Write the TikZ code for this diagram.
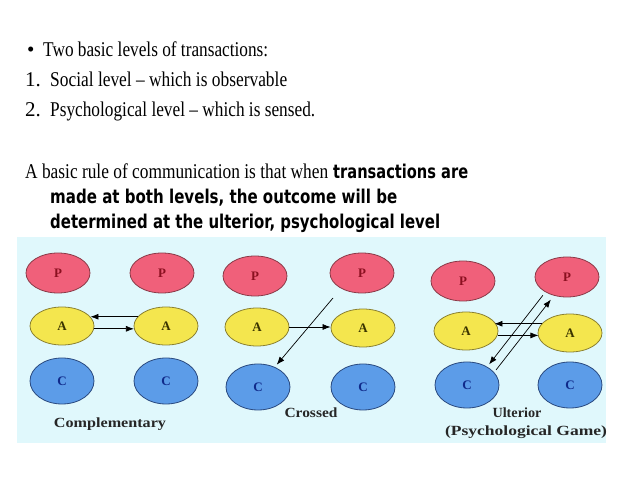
\documentclass[tikz,border=0pt]{standalone}
\usepackage{fontspec}
\usepackage{graphicx}
\setmainfont{Liberation Serif}
\newfontfamily\handfont{DejaVu Sans}
\usetikzlibrary{shapes.geometric,arrows.meta}

\definecolor{panelbg}{HTML}{E0F8FC}
\definecolor{pfill}{HTML}{F0607A}
\definecolor{pline}{HTML}{8A3A48}
\definecolor{ptext}{HTML}{8B1020}
\definecolor{afill}{HTML}{F4E64E}
\definecolor{aline}{HTML}{8A8030}
\definecolor{atext}{HTML}{3A3400}
\definecolor{cfill}{HTML}{5C9CE8}
\definecolor{cline}{HTML}{2A4A80}
\definecolor{ctext}{HTML}{102A8A}

% stretch a line of text to a given width
\newcommand{\fitw}[2]{\resizebox{#1}{\height}{#2}}

\begin{document}
\begin{tikzpicture}[x=1pt, y=-1pt,
    body/.style={anchor=base west, inner sep=0pt, font=\fontsize{21}{23}\selectfont},
    hand/.style={anchor=base west, inner sep=0pt, font=\fontsize{19}{21}\selectfont\handfont\bfseries},
    state/.style={ellipse, minimum width=64pt, inner sep=0pt, line width=0.8pt,
                  font=\fontsize{13}{13}\selectfont\bfseries},
    parent/.style={state, minimum height=40pt, fill=pfill, draw=pline, text=ptext},
    adult/.style={state, minimum height=38pt, fill=afill, draw=aline, text=atext},
    child/.style={state, minimum height=46pt, fill=cfill, draw=cline, text=ctext},
    tx/.style={-{Latex[length=8pt,width=6pt]}, line width=0.7pt},
    caption/.style={inner sep=0pt, align=center, text=black!85,
                    font=\fontsize{14}{17}\selectfont\bfseries}
]
    \useasboundingbox (0,0) rectangle (638,478);

    % slide text
    \node[body] (bul) at (27,57) {•};
    \node[body] (l1) at (43,57) {\fitw{225pt}{Two basic levels of transactions:}};
    \node[body] (n1) at (25,87) {1.};
    \node[body] (l2) at (50,87) {\fitw{237pt}{Social level – which is observable}};
    \node[body] (n2) at (25,117) {2.};
    \node[body] (l3) at (50,117) {\fitw{265pt}{Psychological level – which is sensed.}};
    \node[body] (l4) at (25,179) {\fitw{303pt}{A basic rule of communication is that when}};
    \node[hand] (l4b) at (333,179) {\fitw{135pt}{transactions are}};
    \node[hand] (l5) at (50,204) {\fitw{347pt}{made at both levels, the outcome will be}};
    \node[hand] (l6) at (50,229) {\fitw{390pt}{determined at the ulterior, psychological level}};

    \fill[panelbg] (17,237) rectangle (606,443);

    % complementary
    \node[parent] (cmpPL) at (58,273) {P};
    \node[parent] (cmpPR) at (162,273) {P};
    \node[adult]  (cmpAL) at (62,326) {A};
    \node[adult]  (cmpAR) at (166,326) {A};
    \node[child]  (cmpCL) at (62,381) {C};
    \node[child]  (cmpCR) at (166,381) {C};
    \draw[tx] (cmpAR.162) -- (cmpAL.18);
    \draw[tx] (cmpAL.-5) -- (cmpAR.185);
    \node[caption] (cmpLbl) at (110,424) {\fitw{112pt}{Complementary}};

    % crossed
    \node[parent] (crsPL) at (255,276) {P};
    \node[parent] (crsPR) at (362,273) {P};
    \node[adult]  (crsAL) at (257,327) {A};
    \node[adult]  (crsAR) at (363,328) {A};
    \node[child]  (crsCL) at (258,387) {C};
    \node[child]  (crsCR) at (363,387) {C};
    \coordinate (crsStart) at (333,298);
    \draw[tx] (crsAL.east) -- (crsAL.east -| crsAR.west);
    \draw[tx, shorten >=3pt] (crsStart) -- (crsCL.50);
    \node[caption] (crsLbl) at (311,413) {\fitw{53pt}{Crossed}};

    % ulterior
    \node[parent] (ultPL) at (463,281) {P};
    \node[parent] (ultPR) at (567,277) {P};
    \node[adult]  (ultAL) at (466,331) {A};
    \node[adult]  (ultAR) at (570,333) {A};
    \node[child]  (ultCL) at (467,385) {C};
    \node[child]  (ultCR) at (570,385) {C};
    \draw[tx] (ultAR.162) -- (ultAR.162 -| ultAL.18);
    \draw[tx] (ultAL.-8) -- (ultAL.-8 -| ultAR.188);
    \draw[tx, shorten <=3pt, shorten >=5pt] (ultCL.25) -- (ultPR.-125);
    \draw[tx, shorten <=4pt, shorten >=3pt] (ultPR.-145) -- (ultCL.42);
    \node[caption] (ultLbl) at (517,413) {\fitw{49pt}{Ulterior}};
    \node[caption] (ultLbl2) at (526,432) {\fitw{162pt}{(Psychological Game)}};
\end{tikzpicture}
\end{document}
